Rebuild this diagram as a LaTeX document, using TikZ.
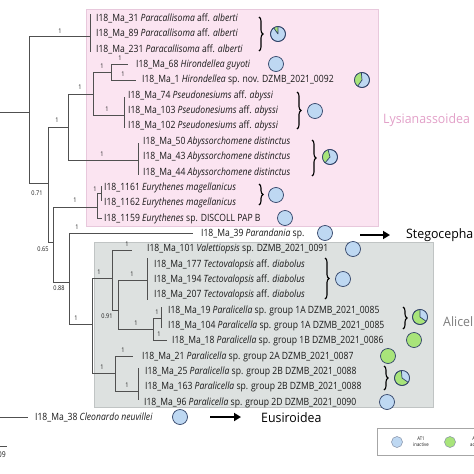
\documentclass[tikz,border=0pt]{standalone}
\usepackage{fontspec}
\setmainfont{Open Sans}
\usetikzlibrary{decorations.pathreplacing,arrows.meta}
\definecolor{pinkbg}{RGB}{251,228,241}
\definecolor{pinkln}{RGB}{232,200,220}
\definecolor{greybg}{RGB}{221,225,224}
\definecolor{greyln}{RGB}{192,196,196}
\definecolor{pieblue}{RGB}{190,216,242}
\definecolor{piegreen}{RGB}{168,228,122}
\definecolor{pieline}{RGB}{50,68,105}
\definecolor{treeln}{RGB}{80,80,80}
\definecolor{txt}{RGB}{25,25,25}
\definecolor{lysi}{RGB}{226,160,200}
\definecolor{alic}{RGB}{125,125,125}
\newcommand\mypiesplit[6]{%
  \node[pienode, fill=#3] (#1) at (#2) {};
  \fill[#4] (#1.center) -- ++(#5:7.5) arc[start angle=#5, end angle=#6, radius=7.5] -- cycle;
  \draw[pieline, line width=0.7pt] (#1.center) -- ++(#5:7.5) (#1.center) -- ++(#6:7.5);
  \draw[pieline, line width=0.7pt] (#1.center) circle[radius=7.5];}
\begin{document}
\begin{tikzpicture}[x=1pt,y=-1pt,
  branch/.style={draw=treeln, line width=0.9pt},
  leaf/.style={anchor=base west, inner sep=0pt, font=\fontsize{10}{12}\selectfont, text=txt, xscale=0.86},
  supp/.style={inner sep=0pt, font=\fontsize{6.5}{8}\selectfont, text=txt, xscale=0.86},
  pienode/.style={circle, draw=pieline, line width=0.7pt, minimum size=15pt, inner sep=0pt},
  bracestyle/.style={draw=black, line width=1.1pt, decorate, decoration={brace, amplitude=4pt}},
  bigarrow/.style={draw=black, line width=2.2pt, -{Triangle[length=7pt,width=8pt]}},
  group/.style={inner sep=0pt, anchor=base west, font=\fontsize{13}{15}\selectfont, xscale=0.95},
  legtxt/.style={inner sep=0pt, font=\fontsize{5}{6}\selectfont, text=txt, align=center, xscale=0.86}]
\useasboundingbox (0,0) rectangle (474,474);
% background boxes
\draw[fill=pinkbg, draw=pinkln, line width=0.8pt] (86,9) rectangle (378,226);
\draw[fill=greybg, draw=greyln, line width=0.8pt] (94,242) rectangle (433,407);
% tree internal nodes
\coordinate (R) at (-3,265);
\coordinate (A) at (29,112);
\coordinate (B) at (48,183);
\coordinate (C) at (68,127);
\coordinate (D) at (53,242);
\coordinate (J) at (93,94);
\coordinate (K) at (111,72);
\coordinate (E1) at (97,207);
\coordinate (E) at (69,282);
\coordinate (F) at (92,324);
\coordinate (G) at (112,278);
\coordinate (G2) at (118,310);
\coordinate (I) at (153,329);
\coordinate (H) at (115,373);
% clusters and leaf ends
\coordinate (P1) at (90,36);  \coordinate (P1t) at (90,14);  \coordinate (P1b) at (90,52);
\coordinate (L4) at (128,64);
\coordinate (L5) at (136,80);
\coordinate (P2) at (124,115); \coordinate (P2t) at (124,97); \coordinate (P2b) at (124,128);
\coordinate (P3) at (138,160); \coordinate (P3t) at (138,143); \coordinate (P3b) at (138,175);
\coordinate (P4) at (101,193); \coordinate (P4t) at (101,186); \coordinate (P4b) at (101,201);
\coordinate (L14) at (102,218);
\coordinate (L15) at (193,233);
\coordinate (L16) at (132,250);
\coordinate (P5) at (147,280); \coordinate (P5t) at (147,258); \coordinate (P5b) at (147,300);
\coordinate (P6) at (161,318); \coordinate (P6t) at (161,307); \coordinate (P6b) at (161,328);
\coordinate (L22) at (167,340);
\coordinate (L23) at (133,356);
\coordinate (P7) at (138,391); \coordinate (P7t) at (138,368); \coordinate (P7b) at (138,400);
\coordinate (L27) at (28,417);
% branches
\draw[branch] (R) |- (A);
\draw[branch] (R) |- (L27);
\draw[branch] (A) |- (P1);
\draw[branch] (A) |- (B);
\draw[branch] (B) |- (C);
\draw[branch] (B) |- (D);
\draw[branch] (C) |- (J);
\draw[branch] (C) |- (P3);
\draw[branch] (J) |- (K);
\draw[branch] (J) |- (P2);
\draw[branch] (K) |- (L4);
\draw[branch] (K) |- (L5);
\draw[branch] (D) |- (E1);
\draw[branch] (D) |- (E);
\draw[branch] (E1) |- (P4);
\draw[branch] (E1) |- (L14);
\draw[branch] (E) |- (L15);
\draw[branch] (E) |- (F);
\draw[branch] (F) |- (G);
\draw[branch] (F) |- (H);
\draw[branch] (G) |- (L16);
\draw[branch] (G) |- (G2);
\draw[branch] (G2) |- (P5);
\draw[branch] (G2) |- (I);
\draw[branch] (I) |- (P6);
\draw[branch] (I) |- (L22);
\draw[branch] (H) |- (L23);
\draw[branch] (H) |- (P7);
\foreach \p in {P1,P2,P3,P4,P5,P6,P7} \draw[branch] (\p t) -- (\p b);
% support values
\node[supp] (s1) at (60,31) {1};
\node[supp] (s2) at (37,193) {0.71};
\node[supp] (s3) at (57,120) {1};
\node[supp] (s4) at (43,249) {0.65};
\node[supp] (s5) at (80,87) {1};
\node[supp] (s6) at (102,66) {1};
\node[supp] (s7) at (120,58) {1};
\node[supp] (s8) at (123,74) {1};
\node[supp] (s9) at (107,109) {1};
\node[supp] (s10) at (102,154) {1};
\node[supp] (s11) at (75,200) {1};
\node[supp] (s12) at (95,189) {1};
\node[supp] (s13) at (59,288) {0.88};
\node[supp] (s14) at (77,227) {1};
\node[supp] (s15) at (76,318) {1};
\node[supp] (s16) at (99,272) {1};
\node[supp] (s17) at (127,244) {1};
\node[supp] (s18) at (107,316) {0.91};
\node[supp] (s19) at (132,274) {1};
\node[supp] (s20) at (136,323) {1};
\node[supp] (s21) at (157,312) {1};
\node[supp] (s22) at (159,334) {1};
\node[supp] (s23) at (102,367) {1};
\node[supp] (s24) at (123,350) {1};
\node[supp] (s25) at (127,385) {1};
% leaf labels
\node[leaf] (t1) at (96,21.5) {I18\_Ma\_31 \textit{Paracallisoma} aff. \textit{alberti}};
\node[leaf] (t2) at (96,36.85) {I18\_Ma\_89 \textit{Paracallisoma} aff. \textit{alberti}};
\node[leaf] (t3) at (96,52.2) {I18\_Ma\_231 \textit{Paracallisoma} aff. \textit{alberti}};
\node[leaf] (t4) at (136,67.55) {I18\_Ma\_68 \textit{Hirondellea guyoti}};
\node[leaf] (t5) at (142,82.9) {I18\_Ma\_1 \textit{Hirondellea} sp. nov. DZMB\_2021\_0092};
\node[leaf] (t6) at (128,98.25) {I18\_Ma\_74 \textit{Pseudonesiums} aff. \textit{abyssi}};
\node[leaf] (t7) at (128,113.6) {I18\_Ma\_103 \textit{Pseudonesiums} aff. \textit{abyssi}};
\node[leaf] (t8) at (128,128.95) {I18\_Ma\_102 \textit{Pseudonesiums} aff. \textit{abyssi}};
\node[leaf] (t9) at (143,144.3) {I18\_Ma\_50 \textit{Abyssorchomene distinctus}};
\node[leaf] (t10) at (143,159.65) {I18\_Ma\_43 \textit{Abyssorchomene distinctus}};
\node[leaf] (t11) at (143,175) {I18\_Ma\_44 \textit{Abyssorchomene distinctus}};
\node[leaf] (t12) at (104,190.35) {I18\_1161 \textit{Eurythenes magellanicus}};
\node[leaf] (t13) at (104,205.7) {I18\_1162 \textit{Eurythenes magellanicus}};
\node[leaf] (t14) at (104,221.05) {I18\_1159 \textit{Eurythenes} sp. DISCOLL PAP B};
\node[leaf] (t15) at (201,236.4) {I18\_Ma\_39 \textit{Parandania} sp.};
\node[leaf] (t16) at (147,251.75) {I18\_Ma\_101 \textit{Valettiopsis} sp. DZMB\_2021\_0091};
\node[leaf] (t17) at (154,267.1) {I18\_Ma\_177 \textit{Tectovalopsis} aff. \textit{diabolus}};
\node[leaf] (t18) at (154,282.45) {I18\_Ma\_194 \textit{Tectovalopsis} aff. \textit{diabolus}};
\node[leaf] (t19) at (154,297.8) {I18\_Ma\_207 \textit{Tectovalopsis} aff. \textit{diabolus}};
\node[leaf] (t20) at (168,313.15) {I18\_Ma\_19 \textit{Paralicella} sp. group 1A DZMB\_2021\_0085};
\node[leaf] (t21) at (168,328.5) {I18\_Ma\_104 \textit{Paralicella} sp. group 1A DZMB\_2021\_0085};
\node[leaf] (t22) at (172,343.85) {I18\_Ma\_18 \textit{Paralicella} sp. group 1B DZMB\_2021\_0086};
\node[leaf] (t23) at (142,359.2) {I18\_Ma\_21 \textit{Paralicella} sp. group 2A DZMB\_2021\_0087};
\node[leaf] (t24) at (145,374.55) {I18\_Ma\_25 \textit{Paralicella} sp. group 2B DZMB\_2021\_0088};
\node[leaf] (t25) at (145,389.9) {I18\_Ma\_163 \textit{Paralicella} sp. group 2B DZMB\_2021\_0088};
\node[leaf] (t26) at (144,405.25) {I18\_Ma\_96 \textit{Paralicella} sp. group 2D DZMB\_2021\_0090};
\node[leaf] (t27) at (35,420.6) {I18\_Ma\_38 \textit{Cleonardo neuvillei}};
% braces
\coordinate (b1t) at (259,17);  \coordinate (b1b) at (259,51);
\coordinate (b2t) at (297,92);  \coordinate (b2b) at (297,129);
\coordinate (b3t) at (312,140); \coordinate (b3b) at (312,176);
\coordinate (b4t) at (259,184); \coordinate (b4b) at (259,205);
\coordinate (b5t) at (325,258); \coordinate (b5b) at (325,299);
\coordinate (b6t) at (403,307); \coordinate (b6b) at (403,329);
\coordinate (b7t) at (384,366); \coordinate (b7b) at (384,390);
\foreach \b in {b1,b2,b3,b4,b5,b6,b7} \draw[bracestyle] (\b t) -- (\b b);
% pies
\mypiesplit{p1}{278,34}{pieblue}{piegreen}{-125}{-90}
\node[pienode, fill=pieblue] (p2) at (276,64) {};
\mypiesplit{p3}{362,80}{pieblue}{piegreen}{-235}{-95}
\node[pienode, fill=pieblue] (p4) at (315,111) {};
\mypiesplit{p5}{330,157}{pieblue}{piegreen}{-230}{-105}
\node[pienode, fill=pieblue] (p6) at (276,195) {};
\node[pienode, fill=pieblue] (p7) at (285,218) {};
\node[pienode, fill=pieblue] (p8) at (325,233) {};
\node[pienode, fill=pieblue] (p9) at (353,249) {};
\node[pienode, fill=pieblue] (p10) at (343,279) {};
\mypiesplit{p11}{420,317}{piegreen}{pieblue}{-90}{35}
\node[pienode, fill=piegreen] (p12) at (414,340) {};
\node[pienode, fill=piegreen] (p13) at (388,356) {};
\mypiesplit{p14}{402,378}{piegreen}{pieblue}{-95}{35}
\node[pienode, fill=pieblue] (p15) at (387,402) {};
\node[pienode, fill=pieblue] (p16) at (180,417) {};
% group labels and arrows
\node[group, text=lysi] (lys) at (383,123) {Lysianassoidea};
\node[group, text=alic] (ali) at (443,326) {Alicelloidea};
\node[group, text=black] (ste) at (406,238) {Stegocephaloidea};
\node[group, text=black] (eus) at (261,422) {Eusiroidea};
\coordinate (a1s) at (360,235); \coordinate (a1e) at (390,235);
\coordinate (a2s) at (210,417); \coordinate (a2e) at (241,417);
\draw[bigarrow] (a1s) -- (a1e);
\draw[bigarrow] (a2s) -- (a2e);
% scale bar
\coordinate (sb1) at (-5,446); \coordinate (sb2) at (7,446);
\draw[treeln, line width=0.9pt] (sb1) -- (sb2);
\node[inner sep=0pt, anchor=base east, font=\fontsize{8}{9}\selectfont, text=txt, xscale=0.86] (sbt) at (6,457) {0.09};
% legend
\draw[draw=gray!70, fill=white, line width=1pt] (377,428) rectangle (490,455);
\node[circle, draw=pieline!60, fill=pieblue, minimum size=11pt, inner sep=0pt, line width=0.5pt] (lc1) at (397,442) {};
\node[legtxt] (lt1) at (421,442) {AT1\\inactive};
\node[circle, draw=pieline!60, fill=piegreen, minimum size=11pt, inner sep=0pt, line width=0.5pt] (lc2) at (450,442) {};
\node[legtxt] (lt2) at (476,442) {AT2\\active};
\end{tikzpicture}
\end{document}
